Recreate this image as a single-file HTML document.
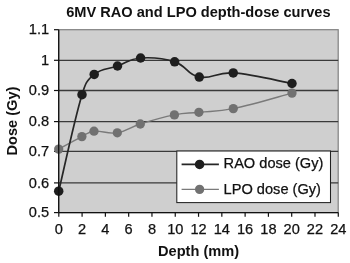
<!DOCTYPE html>
<html><head><meta charset="utf-8"><style>
html,body{margin:0;padding:0;background:#fff;}
body{width:350px;height:263px;overflow:hidden;}
svg{display:block;will-change:transform;filter:blur(0.3px);}
.t{font-family:"Liberation Sans",sans-serif;font-size:14.6px;fill:#111;stroke:#111;stroke-width:0.25px;}
.b{font-family:"Liberation Sans",sans-serif;font-size:14.6px;font-weight:bold;fill:#111;}
</style></head><body>
<svg width="350" height="263" viewBox="0 0 350 263">
<rect x="58.70" y="29.70" width="279.50" height="182.90" fill="#cfcfcf" stroke="#808080" stroke-width="1.2"/>
<line x1="54.00" y1="212.60" x2="58.70" y2="212.60" stroke="#111" stroke-width="1.2"/>
<text x="49.1" y="217.30" text-anchor="end" class="t">0.5</text>
<line x1="58.70" y1="182.90" x2="338.20" y2="182.90" stroke="#3a3a3a" stroke-width="1.3"/>
<line x1="54.00" y1="182.90" x2="58.70" y2="182.90" stroke="#111" stroke-width="1.2"/>
<text x="49.1" y="187.60" text-anchor="end" class="t">0.6</text>
<line x1="58.70" y1="151.30" x2="338.20" y2="151.30" stroke="#3a3a3a" stroke-width="1.3"/>
<line x1="54.00" y1="151.30" x2="58.70" y2="151.30" stroke="#111" stroke-width="1.2"/>
<text x="49.1" y="156.00" text-anchor="end" class="t">0.7</text>
<line x1="58.70" y1="121.60" x2="338.20" y2="121.60" stroke="#3a3a3a" stroke-width="1.3"/>
<line x1="54.00" y1="121.60" x2="58.70" y2="121.60" stroke="#111" stroke-width="1.2"/>
<text x="49.1" y="126.30" text-anchor="end" class="t">0.8</text>
<line x1="58.70" y1="90.50" x2="338.20" y2="90.50" stroke="#3a3a3a" stroke-width="1.3"/>
<line x1="54.00" y1="90.50" x2="58.70" y2="90.50" stroke="#111" stroke-width="1.2"/>
<text x="49.1" y="95.20" text-anchor="end" class="t">0.9</text>
<line x1="58.70" y1="60.30" x2="338.20" y2="60.30" stroke="#3a3a3a" stroke-width="1.3"/>
<line x1="54.00" y1="60.30" x2="58.70" y2="60.30" stroke="#111" stroke-width="1.2"/>
<text x="49.1" y="65.00" text-anchor="end" class="t">1</text>
<line x1="54.00" y1="29.70" x2="58.70" y2="29.70" stroke="#111" stroke-width="1.2"/>
<text x="49.1" y="34.40" text-anchor="end" class="t">1.1</text>
<line x1="58.70" y1="212.60" x2="338.20" y2="212.60" stroke="#111" stroke-width="1.3"/>
<line x1="58.80" y1="212.60" x2="58.80" y2="216.80" stroke="#111" stroke-width="1.2"/>
<text x="58.80" y="233.8" text-anchor="middle" class="t">0</text>
<line x1="82.09" y1="212.60" x2="82.09" y2="216.80" stroke="#111" stroke-width="1.2"/>
<text x="82.09" y="233.8" text-anchor="middle" class="t">2</text>
<line x1="105.38" y1="212.60" x2="105.38" y2="216.80" stroke="#111" stroke-width="1.2"/>
<text x="105.38" y="233.8" text-anchor="middle" class="t">4</text>
<line x1="128.67" y1="212.60" x2="128.67" y2="216.80" stroke="#111" stroke-width="1.2"/>
<text x="128.67" y="233.8" text-anchor="middle" class="t">6</text>
<line x1="151.96" y1="212.60" x2="151.96" y2="216.80" stroke="#111" stroke-width="1.2"/>
<text x="151.96" y="233.8" text-anchor="middle" class="t">8</text>
<line x1="175.25" y1="212.60" x2="175.25" y2="216.80" stroke="#111" stroke-width="1.2"/>
<text x="175.25" y="233.8" text-anchor="middle" class="t">10</text>
<line x1="198.54" y1="212.60" x2="198.54" y2="216.80" stroke="#111" stroke-width="1.2"/>
<text x="198.54" y="233.8" text-anchor="middle" class="t">12</text>
<line x1="221.83" y1="212.60" x2="221.83" y2="216.80" stroke="#111" stroke-width="1.2"/>
<text x="221.83" y="233.8" text-anchor="middle" class="t">14</text>
<line x1="245.12" y1="212.60" x2="245.12" y2="216.80" stroke="#111" stroke-width="1.2"/>
<text x="245.12" y="233.8" text-anchor="middle" class="t">16</text>
<line x1="268.41" y1="212.60" x2="268.41" y2="216.80" stroke="#111" stroke-width="1.2"/>
<text x="268.41" y="233.8" text-anchor="middle" class="t">18</text>
<line x1="291.70" y1="212.60" x2="291.70" y2="216.80" stroke="#111" stroke-width="1.2"/>
<text x="291.70" y="233.8" text-anchor="middle" class="t">20</text>
<line x1="314.99" y1="212.60" x2="314.99" y2="216.80" stroke="#111" stroke-width="1.2"/>
<text x="314.99" y="233.8" text-anchor="middle" class="t">22</text>
<line x1="338.28" y1="212.60" x2="338.28" y2="216.80" stroke="#111" stroke-width="1.2"/>
<text x="338.28" y="233.8" text-anchor="middle" class="t">24</text>
<path d="M58.70,149.10 C63.80,146.35 74.13,140.54 81.90,136.60 C87.81,133.60 87.41,131.91 94.00,131.20 C101.79,130.36 107.11,134.38 117.30,132.80 C127.49,131.22 128.55,127.68 140.30,124.00 C152.86,120.06 161.51,117.47 174.40,114.90 C186.48,112.49 186.65,113.61 198.90,112.30 C211.86,110.91 216.36,112.09 233.30,108.60 C253.78,104.38 279.09,96.51 292.00,93.10" fill="none" stroke="#7a7a7a" stroke-width="1.4"/>
<circle cx="58.70" cy="149.10" r="4.65" fill="#717171"/>
<circle cx="81.90" cy="136.60" r="4.65" fill="#717171"/>
<circle cx="94.00" cy="131.20" r="4.65" fill="#717171"/>
<circle cx="117.30" cy="132.80" r="4.65" fill="#717171"/>
<circle cx="140.30" cy="124.00" r="4.65" fill="#717171"/>
<circle cx="174.40" cy="114.90" r="4.65" fill="#717171"/>
<circle cx="198.90" cy="112.30" r="4.65" fill="#717171"/>
<circle cx="233.30" cy="108.60" r="4.65" fill="#717171"/>
<circle cx="292.00" cy="93.10" r="4.65" fill="#717171"/>
<path d="M58.70,191.20 C63.83,169.97 74.19,120.40 82.00,94.70 C85.44,83.37 86.39,80.71 94.20,74.40 C102.01,68.09 107.29,69.61 117.50,66.00 C127.71,62.39 128.41,58.89 140.60,58.00 C153.17,57.09 161.75,57.66 174.65,61.85 C187.55,66.04 186.36,74.62 199.25,77.05 C212.14,79.48 216.17,71.71 233.25,72.90 C253.66,74.32 279.07,81.17 292.00,83.50" fill="none" stroke="#262626" stroke-width="1.7"/>
<circle cx="58.70" cy="191.20" r="4.75" fill="#1e1e1e"/>
<circle cx="82.00" cy="94.70" r="4.75" fill="#1e1e1e"/>
<circle cx="94.20" cy="74.40" r="4.75" fill="#1e1e1e"/>
<circle cx="117.50" cy="66.00" r="4.75" fill="#1e1e1e"/>
<circle cx="140.60" cy="58.00" r="4.75" fill="#1e1e1e"/>
<circle cx="174.65" cy="61.85" r="4.75" fill="#1e1e1e"/>
<circle cx="199.25" cy="77.05" r="4.75" fill="#1e1e1e"/>
<circle cx="233.25" cy="72.90" r="4.75" fill="#1e1e1e"/>
<circle cx="292.00" cy="83.50" r="4.75" fill="#1e1e1e"/>
<line x1="58.70" y1="29.70" x2="58.70" y2="212.60" stroke="#111" stroke-width="1.3"/>
<rect x="176.8" y="151" width="153.7" height="51.6" fill="#fff" stroke="#222" stroke-width="1.05"/>
<line x1="181.6" y1="164.4" x2="218.9" y2="164.4" stroke="#262626" stroke-width="1.7"/>
<circle cx="199.6" cy="164.4" r="4.75" fill="#1e1e1e"/>
<text x="223.6" y="168.4" class="t">RAO dose (Gy)</text>
<line x1="181.6" y1="189.4" x2="218.9" y2="189.4" stroke="#7a7a7a" stroke-width="1.4"/>
<circle cx="199.6" cy="189.4" r="4.65" fill="#717171"/>
<text x="223.6" y="193.9" class="t">LPO dose (Gy)</text>
<text x="66.2" y="17" class="b">6MV RAO and LPO depth-dose curves</text>
<text x="158" y="255.5" class="b">Depth (mm)</text>
<text transform="translate(17.4,155.5) rotate(-90)" x="0" y="0" class="b">Dose (Gy)</text>
</svg>
</body></html>
